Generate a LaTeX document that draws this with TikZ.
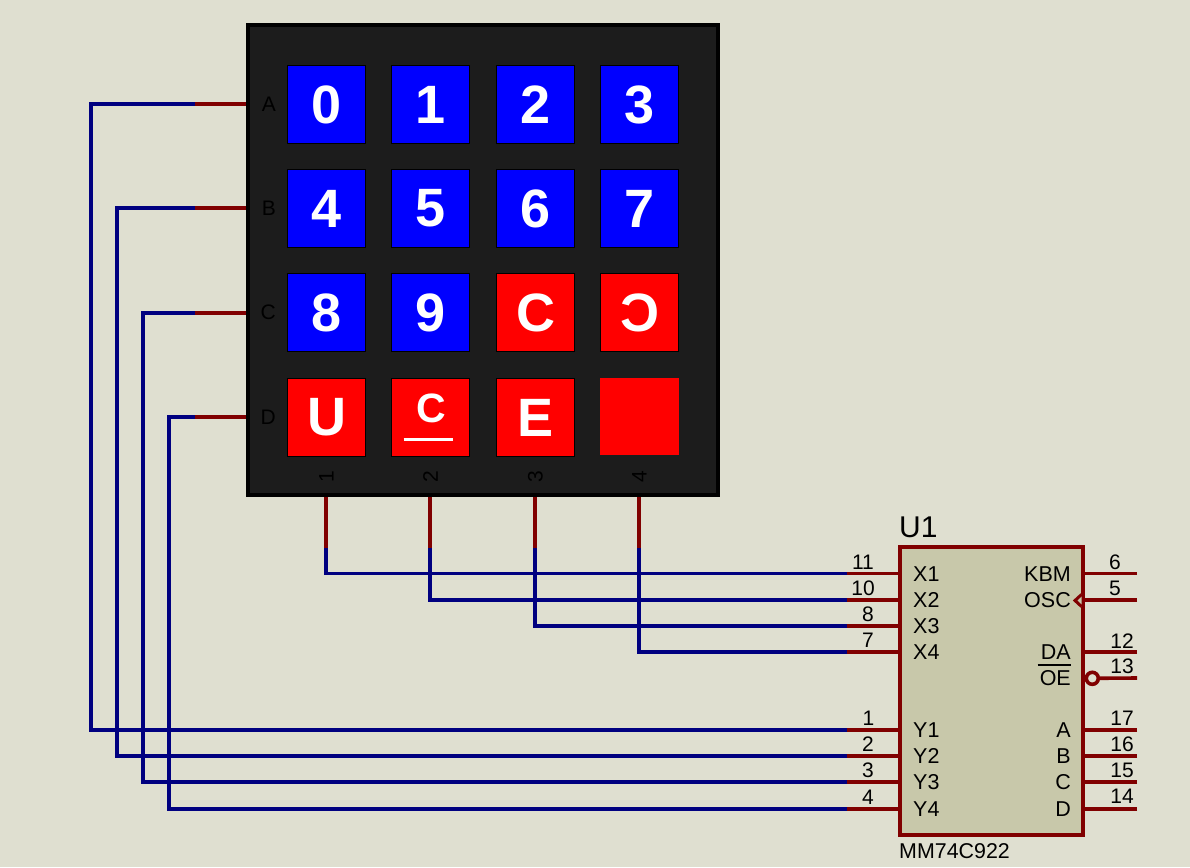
\documentclass[tikz,border=0pt]{standalone}
\usepackage{fontspec}
\setmainfont{Liberation Sans}
\usepackage{xcolor}
\usetikzlibrary{positioning, arrows.meta}
\definecolor{sheetbg}{HTML}{DFDFD0}
\definecolor{padbg}{HTML}{1C1C1C}
\definecolor{chipbg}{HTML}{C8C8AA}
\definecolor{pinred}{HTML}{800000}
\definecolor{wireblue}{HTML}{000080}
\tikzset{
    keypad/.style={
        rectangle,
        draw=black,
        line width=3.7pt,
        fill=padbg,
        minimum width=470pt,
        minimum height=470pt
    },
    digitkey/.style={
        rectangle,
        draw=black,
        line width=1pt,
        fill=blue,
        text=white,
        inner sep=0pt,
        outer sep=0.5pt,
        minimum size=78pt,
        font=\fontsize{54}{54}\selectfont\bfseries,
        execute at begin node=\kern1pt
    },
    funckey/.style={
        digitkey,
        fill=red
    },
    padlabel/.style={
        text=black,
        inner sep=0pt,
        font=\fontsize{21}{21}\selectfont
    },
    chip/.style={
        rectangle,
        draw=pinred,
        line width=4pt,
        fill=chipbg,
        minimum width=182.7pt,
        minimum height=288pt
    },
    pin/.style={
        draw=pinred,
        line width=3.6pt
    },
    wire/.style={
        draw=wireblue,
        line width=3.6pt,
        line join=miter
    },
    pinname/.style={
        inner sep=0pt,
        font=\fontsize{21.5}{21.5}\selectfont
    },
    pinnum/.style={
        inner sep=0pt,
        font=\fontsize{21}{21}\selectfont
    }
}
\begin{document}
\begin{tikzpicture}[x=1pt,y=-1pt]

\fill[sheetbg] (0,0) rectangle (1190,867);
\useasboundingbox (0,0) rectangle (1190,867);

% Keypad body
\node[keypad] (pad) at (483,260) {};

% Keys, row by row
\node[digitkey] (k0) at (326.5,104.5) {0};
\node[digitkey, right=25pt of k0] (k1) {1};
\node[digitkey, right=26pt of k1] (k2) {2};
\node[digitkey, right=25pt of k2] (k3) {3};

\node[digitkey, below=25pt of k0] (k4) {4};
\node[digitkey, right=25pt of k4] (k5) {5};
\node[digitkey, right=26pt of k5] (k6) {6};
\node[digitkey, right=25pt of k6] (k7) {7};

\node[digitkey, below=25pt of k4] (k8) {8};
\node[digitkey, right=25pt of k8] (k9) {9};
\node[funckey, right=26pt of k9] (kc) {C};
\node[funckey, right=25pt of kc] (kr) {\scalebox{-1}[1]{C}};

\node[funckey, below=26pt of k8] (ku) {U};
\node[funckey, right=25pt of ku] (ks) {};
\node[funckey, right=26pt of ks] (ke) {E};
\node[funckey, draw=red, minimum height=76pt, right=25pt of ke, yshift=1pt] (kb) {};

% Small C over its bar on the second key
\node[text=white, inner sep=0pt, font=\fontsize{41}{41}\selectfont\bfseries] (ksc) at (431,408.5) {C};
\draw[white, line width=3pt] ([xshift=-27pt,yshift=-22pt]ks.center) -- ([xshift=22.5pt,yshift=-22pt]ks.center);

% Row and column marks
\node[padlabel, left=11pt of k0] (la) {A};
\node[padlabel, left=11pt of k4] (lb) {B};
\node[padlabel, left=11pt of k8] (lc) {C};
\node[padlabel, left=11pt of ku] (ld) {D};
\node[padlabel, rotate=90] (l1) at ([yshift=-20pt]ku.south) {1};
\node[padlabel, rotate=90] (l2) at ([yshift=-20pt]ks.south) {2};
\node[padlabel, rotate=90] (l3) at ([yshift=-20pt]ke.south) {3};
\node[padlabel, rotate=90] (l4) at ([yshift=-20pt]ke.south -| kb) {4};

% Decoder
\node[chip] (u1) at (991.7,691) {};
\node[anchor=south west, inner sep=0pt, font=\fontsize{30}{30}\selectfont] (u1name) at (899,538) {U1};
\node[anchor=north west, inner sep=0pt, font=\fontsize{21.4}{21.4}\selectfont] (u1part) at (899,843) {MM74C922};

% Free ends of the chip's pins
\coordinate (x1) at (847,573.6);
\coordinate (x2) at (847,599.7);
\coordinate (x3) at (847,625.7);
\coordinate (x4) at (847,651.7);
\coordinate (y1) at (847,729.7);
\coordinate (y2) at (847,755.7);
\coordinate (y3) at (847,781.7);
\coordinate (y4) at (847,808.7);
\coordinate (kbm) at (1137,573.6);
\coordinate (osc) at (1137,599.7);
\coordinate (da) at (1137,651.7);
\coordinate (oe) at (1137,678);
\coordinate (qa) at (1137,729.7);
\coordinate (qb) at (1137,755.7);
\coordinate (qc) at (1137,781.7);
\coordinate (qd) at (1137,808.7);

\draw[pin] (x1) -- (x1 -| u1.west);
\draw[pin] (x2) -- (x2 -| u1.west);
\draw[pin] (x3) -- (x3 -| u1.west);
\draw[pin] (x4) -- (x4 -| u1.west);
\draw[pin] (y1) -- (y1 -| u1.west);
\draw[pin] (y2) -- (y2 -| u1.west);
\draw[pin] (y3) -- (y3 -| u1.west);
\draw[pin] (y4) -- (y4 -| u1.west);
\draw[pin] (kbm) -- (kbm -| u1.east);
\draw[pin] (osc) -- (osc -| u1.east);
\draw[pin] (da) -- (da -| u1.east);
\draw[pin] (qa) -- (qa -| u1.east);
\draw[pin] (qb) -- (qb -| u1.east);
\draw[pin] (qc) -- (qc -| u1.east);
\draw[pin] (qd) -- (qd -| u1.east);

% OSC clock mark and inverted OE
\node[circle, draw=pinred, line width=3.6pt, fill=sheetbg, minimum size=12pt, inner sep=0pt, outer sep=1.8pt] (bub) at (1092.3,678.3) {};
\draw[pin] (oe) -- (bub);
\draw[draw=pinred, line width=3pt, fill=chipbg] (1081.5,594.5) -- (1075,600.5) -- (1081.5,606.5);

% Pin names
\node[pinname, anchor=west] (nx1) at (913,574) {X1};
\node[pinname, anchor=west] (nx2) at (913,600) {X2};
\node[pinname, anchor=west] (nx3) at (913,626) {X3};
\node[pinname, anchor=west] (nx4) at (913,652) {X4};
\node[pinname, anchor=west] (ny1) at (913,730) {Y1};
\node[pinname, anchor=west] (ny2) at (913,756) {Y2};
\node[pinname, anchor=west] (ny3) at (913,782) {Y3};
\node[pinname, anchor=west] (ny4) at (913,809) {Y4};
\node[pinname, anchor=east] (nkbm) at (1071,574) {KBM};
\node[pinname, anchor=east] (nosc) at (1071,600) {OSC};
\node[pinname, anchor=east] (nda) at (1071,652.5) {DA};
\node[pinname, anchor=east] (noe) at (1071,678) {OE};
\node[pinname, anchor=east] (nqa) at (1071,730) {A};
\node[pinname, anchor=east] (nqb) at (1071,756) {B};
\node[pinname, anchor=east] (nqc) at (1071,782) {C};
\node[pinname, anchor=east] (nqd) at (1071,809) {D};
\draw[black, line width=2pt] ([xshift=-2pt,yshift=5pt]noe.north west) -- ([yshift=5pt]noe.north east);

% Pin numbers
\node[pinnum] (n11) at (863,562.7) {11};
\node[pinnum] (n10) at (863,588.7) {10};
\node[pinnum] (n8) at (868,614.7) {8};
\node[pinnum] (n7) at (868,640.7) {7};
\node[pinnum] (n1) at (868.5,718) {1};
\node[pinnum] (n2) at (868,744) {2};
\node[pinnum] (n3) at (868,770) {3};
\node[pinnum] (n4) at (868,797) {4};
\node[pinnum] (n6) at (1115,562.7) {6};
\node[pinnum] (n5) at (1115,588.7) {5};
\node[pinnum] (n12) at (1122,640.7) {12};
\node[pinnum] (n13) at (1122,666.7) {13};
\node[pinnum] (n17) at (1122,718) {17};
\node[pinnum] (n16) at (1122,744) {16};
\node[pinnum] (n15) at (1122,770) {15};
\node[pinnum] (n14) at (1122,796.5) {14};

% Keypad pins
\coordinate (pa) at (195,104);
\coordinate (pb) at (195,208);
\coordinate (pc) at (195,313);
\coordinate (pd) at (195,417);
\coordinate (p1) at (326,548);
\coordinate (p2) at (430,548);
\coordinate (p3) at (535,548);
\coordinate (p4) at (639,548);

% Wires
\draw[wire] (pa) -- (91,104) |- (y1);
\draw[wire] (pb) -- (117,208) |- (y2);
\draw[wire] (pc) -- (143,313) |- (y3);
\draw[wire] (pd) -- (169,417) |- (y4);
\draw[wire] (p1) |- (x1);
\draw[wire] (p2) |- (x2);
\draw[wire] (p3) |- (x3);
\draw[wire] (p4) |- (x4);

\draw[pin] (pa) -- (pa -| pad.west);
\draw[pin] (pb) -- (pb -| pad.west);
\draw[pin] (pc) -- (pc -| pad.west);
\draw[pin] (pd) -- (pd -| pad.west);
\draw[pin] (p1) -- (p1 |- pad.south);
\draw[pin] (p2) -- (p2 |- pad.south);
\draw[pin] (p3) -- (p3 |- pad.south);
\draw[pin] (p4) -- (p4 |- pad.south);

\end{tikzpicture}
\end{document}
